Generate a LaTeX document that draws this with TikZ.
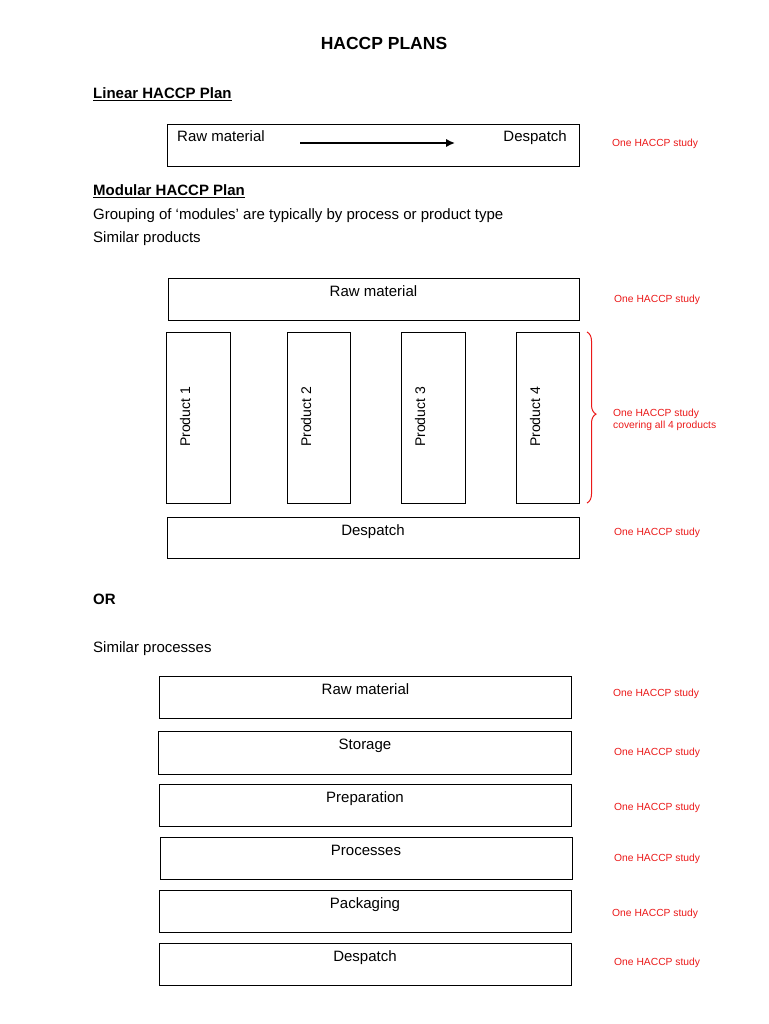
\documentclass[tikz,border=0pt]{standalone}
\usepackage{fontspec}
\setmainfont{Liberation Sans}
\usetikzlibrary{arrows.meta,decorations.pathreplacing}
\definecolor{hred}{RGB}{235,25,25}
\begin{document}
\begin{tikzpicture}[x=1pt,y=-1pt,
  box/.style={draw=black,line width=0.9pt,inner sep=0pt},
  txt/.style={anchor=base,inner sep=0pt,font=\fontsize{15}{18}\selectfont},
  lefttxt/.style={anchor=base west,inner sep=0pt,font=\fontsize{15}{18}\selectfont},
  head/.style={anchor=base west,inner sep=0pt,font=\fontsize{15}{18}\selectfont\bfseries},
  note/.style={anchor=base west,inner sep=0pt,text=hred,font=\fontsize{10.3}{12.5}\selectfont},
  prod/.style={rotate=90,inner sep=0pt,font=\fontsize{14}{16}\selectfont},
  arrow/.style={line width=2.3pt,-{Latex[length=9pt,width=8.5pt]}}]
\useasboundingbox (0,0) rectangle (768,1024);

\node[anchor=base,inner sep=0pt,font=\fontsize{17.5}{20}\selectfont\bfseries] (title) at (384,50) {HACCP PLANS};

% Linear
\node[head] (lin) at (93,98.5) {\underline{Linear HACCP Plan}};
\node[box,minimum width=412,minimum height=42] (linbox) at (373,145) {};
\node[lefttxt] (linraw) at (177,142) {Raw material};
\node[anchor=base east,inner sep=0pt,font=\fontsize{15}{18}\selectfont] (lindes) at (567,142) {Despatch};
\coordinate (a1) at (300,143);
\coordinate (a2) at (455,143);
\draw[arrow] (a1) -- (a2);
\node[note] (n0) at (612,147) {One HACCP study};

% Modular
\node[head] (mod) at (93,195.5) {\underline{Modular HACCP Plan}};
\node[lefttxt] (grp) at (93,219) {Grouping of ‘modules’ are typically by process or product type};
\node[lefttxt] (simprod) at (93,243) {Similar products};

\node[box,minimum width=411,minimum height=42] (mraw) at (373.5,299) {};
\node[txt] (mrawt) at (373.5,296) {Raw material};
\node[note] (n1) at (614,302) {One HACCP study};

\node[box,minimum width=64,minimum height=171] (p1) at (198,417.5) {};
\node[box,minimum width=63,minimum height=171] (p2) at (318.5,417.5) {};
\node[box,minimum width=64,minimum height=171] (p3) at (433,417.5) {};
\node[box,minimum width=63,minimum height=171] (p4) at (547.5,417.5) {};
\node[prod] (p1t) at (185,417) {Product 1};
\node[prod] (p2t) at (306,417) {Product 2};
\node[prod] (p3t) at (420,417) {Product 3};
\node[prod] (p4t) at (535,417) {Product 4};

\coordinate (br1) at (587,332);
\coordinate (br2) at (587,503);
\draw[hred,line width=1pt,decorate,decoration={brace,amplitude=9pt,aspect=0.48}] (br1) -- (br2);
\node[note] (n2) at (613,416) {One HACCP study};
\node[note] (n3) at (613,428) {covering all 4 products};

\node[box,minimum width=412,minimum height=41] (mdes) at (373,537.5) {};
\node[txt] (mdest) at (373,535) {Despatch};
\node[note] (n4) at (614,535) {One HACCP study};

% OR
\node[head] (or) at (93,604) {OR};
\node[lefttxt] (simproc) at (93,652) {Similar processes};

\node[box,minimum width=412,minimum height=42] (s1) at (365.5,697) {};
\node[txt] (s1t) at (365.5,694) {Raw material};
\node[note] (n5) at (613,696) {One HACCP study};

\node[box,minimum width=413,minimum height=43] (s2) at (365,752.5) {};
\node[txt] (s2t) at (365,749) {Storage};
\node[note] (n6) at (614,755) {One HACCP study};

\node[box,minimum width=412,minimum height=42] (s3) at (365,805) {};
\node[txt] (s3t) at (365,802) {Preparation};
\node[note] (n7) at (614,810) {One HACCP study};

\node[box,minimum width=412,minimum height=42] (s4) at (366,858) {};
\node[txt] (s4t) at (366,855) {Processes};
\node[note] (n8) at (614,861) {One HACCP study};

\node[box,minimum width=412,minimum height=42] (s5) at (365,911) {};
\node[txt] (s5t) at (365,908) {Packaging};
\node[note] (n9) at (612,916) {One HACCP study};

\node[box,minimum width=412,minimum height=42] (s6) at (365,964) {};
\node[txt] (s6t) at (365,961) {Despatch};
\node[note] (n10) at (614,965) {One HACCP study};
\end{tikzpicture}
\end{document}
